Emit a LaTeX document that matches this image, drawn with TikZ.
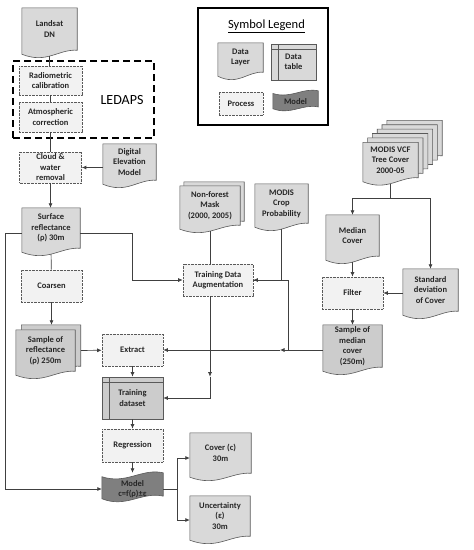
\documentclass[tikz,border=0pt]{standalone}
\usepackage{fontspec}
\setmainfont{Carlito}
\usetikzlibrary{positioning,arrows.meta,calc,backgrounds}
\definecolor{ink}{HTML}{262626}
\definecolor{edge}{HTML}{404040}
\definecolor{rim}{HTML}{595959}
\definecolor{layerfill}{HTML}{D9D9D9}
\definecolor{samplefill}{HTML}{CCCCCC}
\definecolor{procfill}{HTML}{F2F2F2}
\definecolor{modelfill}{HTML}{7F7F7F}

\tikzset{
  dims/.style 2 args={minimum width=#1pt, minimum height=#2pt},
  box/.style={inner sep=1pt, align=center, text=ink, font=\bfseries\fontsize{8.5}{10.5}\selectfont},
  process/.style={box, draw=rim, fill=procfill, line width=0.6pt, dash pattern=on 0.6pt off 0.8pt},
  datatable/.style={box, draw=rim, fill=layerfill, line width=0.6pt,
    path picture={\draw[rim, line width=0.6pt]
      ([xshift=7pt]path picture bounding box.north west) -- ([xshift=7pt]path picture bounding box.south west)
      ([yshift=-5pt]path picture bounding box.north west) -- ([yshift=-5pt]path picture bounding box.north east);}},
  link/.style={draw=edge, line width=0.7pt},
  fromwave/.style={shorten <=6pt},
}

% data layer: sheet with a wavy foot, drawn round a node
\newcommand{\layershape}[3][0,0]{%
  \draw[rim, line width=0.6pt, fill=#3]
    let \p1=($(#2.north west)+(#1)$), \p2=($(#2.south east)+(#1)$) in
    (\p1) -- (\x2,\y1) -- (\p2)
    .. controls ({\x2+0.35*(\x1-\x2)},\y2+1pt) and ({\x2+0.55*(\x1-\x2)},\y2-14pt)
    .. (\x1,\y2-4pt) -- cycle;}

% model: wavy banner
\newcommand{\modelshape}[1]{%
  \draw[rim, line width=0.6pt, fill=modelfill]
    let \p1=(#1.north west), \p2=(#1.south east), \n1={\x2-\x1}, \n2={\y1-\y2} in
    (\x1,{\y1-0.12*\n2}) .. controls ({\x1+0.4*\n1},{\y1-0.37*\n2}) and ({\x1+0.65*\n1},{\y1+0.15*\n2}) .. (\x2,\y1)
    -- (\x2,{\y1-0.72*\n2}) .. controls ({\x1+0.65*\n1},{\y1-0.57*\n2}) and ({\x1+0.4*\n1},{\y1-1.1*\n2}) .. (\x1,{\y1-0.8*\n2}) -- cycle;}

\begin{document}
\begin{tikzpicture}[x=1pt, y=-1pt, >={Latex[length=4.5pt,width=4pt]}]
  \useasboundingbox (0,0) rectangle (474,550);

  % legend
  \node[draw=black, line width=2pt, dims={130}{117}] (legendbox) at (263,66.5) {};
  \node[font=\fontsize{12.5}{14}\selectfont, text=black] (legendtitle) at (266.5,26) {\underline{Symbol Legend}};
  \node[box, dims={45}{29}] (legdata) at (240.5,57.5) {Data\\Layer};
  \node[datatable, dims={45}{36}] (legtable) at (293.5,62) {Data\\table};
  \node[process, dims={44}{23}] (legproc) at (241,103.5) {Process};
  \node[box, dims={45}{22}] (legmodel) at (295.5,102) {Model};

  % LEDAPS
  \node[draw=black, line width=2.2pt, dash pattern=on 7pt off 4pt, dims={141}{77}] (ledaps) at (83.5,99.5) {};
  \node[font=\fontsize{14}{16}\selectfont, text=black] (ledapslabel) at (122,100) {LEDAPS};

  % main column
  \node[box, dims={55}{42}] (landsat) at (49.5,29) {Landsat\\DN};
  \node[process, dims={63}{29}] (radio) at (50.5,80.5) {Radiometric\\calibration};
  \node[process, dims={63}{30}] (atmos) at (50.5,117) {Atmospheric\\correction};
  \node[process, dims={62}{31}] (cloud) at (50.5,167.5) {Cloud \&\\water\\removal};
  \node[box, dims={53}{36}] (dem) at (129.5,162) {Digital\\Elevation\\Model};
  \node[box, dims={58}{40}] (surf) at (51,228) {Surface\\reflectance\\(ρ) 30m};
  \node[process, dims={61}{32}] (coarsen) at (51.5,286) {Coarsen};
  \node[box, dims={59}{41}] (sampref) at (45.5,350.5) {Sample of\\reflectance\\(ρ) 250m};
  \node[process, dims={61}{32}] (extract) at (132.5,350) {Extract};
  \node[datatable, fill=samplefill, dims={61}{42}] (trainds) at (132.5,398) {Training\\dataset};
  \node[process, dims={61}{33}] (regression) at (132.5,445.5) {Regression};
  \node[box, dims={61}{32}] (model) at (132.5,489) {Model\\c=f(ρ)±ε};
  \node[box, dims={61}{40}] (cover) at (220.5,453) {Cover (c)\\30m};
  \node[box, dims={60}{40}] (uncert) at (220,516) {Uncertainty\\(ε)\\30m};

  % middle inputs
  \node[box, dims={60}{39}] (nonforest) at (210,205.5) {Non-forest\\Mask\\(2000, 2005)};
  \node[box, dims={53}{39}] (modiscrop) at (281.5,203.5) {MODIS\\Crop\\Probability};
  \node[process, dims={70}{32}] (tda) at (218,280) {Training Data\\Augmentation};

  % tree cover branch
  \node[box, dims={55}{35}] (vcf) at (390.5,160) {MODIS VCF\\Tree Cover\\2000-05};
  \node[box, dims={53}{41}] (median) at (352.5,235.5) {Median\\Cover};
  \node[box, dims={55}{42}] (sd) at (430.5,290) {Standard\\deviation\\of Cover};
  \node[process, dims={61}{32}] (filter) at (352.5,293) {Filter};
  \node[box, dims={59}{42}] (sampmed) at (352.5,346) {Sample of\\median\\cover\\(250m)};

  \begin{scope}[on background layer]
    \layershape{legdata}{layerfill}
    \modelshape{legmodel}
    \layershape{landsat}{layerfill}
    \layershape{dem}{layerfill}
    \layershape{surf}{layerfill}
    \layershape[5.5,-5]{sampref}{samplefill}
    \layershape{sampref}{samplefill}
    \modelshape{model}
    \layershape{cover}{layerfill}
    \layershape{uncert}{layerfill}
    \layershape[4,-4]{nonforest}{layerfill}
    \layershape{nonforest}{layerfill}
    \layershape{modiscrop}{layerfill}
    \foreach \k in {5,...,1} {\layershape[4.8*\k,-4.4*\k]{vcf}{layerfill}}
    \layershape{vcf}{layerfill}
    \layershape{median}{layerfill}
    \layershape{sd}{layerfill}
    \layershape{sampmed}{samplefill}
  \end{scope}

  \coordinate (medjoin) at (288,350);
  \coordinate (vcffork) at (390.5,198);
  \coordinate (modelfork) at ([xshift=14pt]model.east);

  \draw[link, fromwave] (landsat.south) -- (landsat.south |- radio.north);
  \draw[link] (radio) -- (atmos);
  \draw[link] (atmos) -- (cloud);
  \draw[link,->] (dem.west |- cloud) -- (cloud);
  \draw[link,->] (cloud.south) -- (cloud.south |- surf.north);
  \draw[link, fromwave] (surf.south) -- (coarsen);
  \draw[link,->, shorten >=5pt] (coarsen) -- (coarsen |- sampref.north);
  \draw[link,->, shorten <=6pt] (sampref.east) -- (extract);
  \draw[link,->] ([yshift=-5pt]surf.west) -- ++(-16,0) |- (model);
  \draw[link,->] ([yshift=-5pt]surf.east) -| (extract |- tda) -- (tda);
  \draw[link, fromwave] (nonforest.south) -- (nonforest.south |- tda.north);
  \draw[link,->, fromwave] (modiscrop.south) |- (tda.east);
  \draw[link,->] (sampmed.west |- extract) -- ([xshift=-8pt]medjoin);
  \draw[link,->] ([xshift=-8pt]medjoin) -- (extract);
  \draw[link] (medjoin) |- (tda.east);
  \draw[link,->] (nonforest.south |- tda.south) -- (nonforest.south |- trainds.north);
  \draw[link,->] (nonforest.south |- trainds.north) |- (trainds);
  \draw[link,->] (extract) -- (trainds);
  \draw[link,->] (trainds) -- (regression);
  \draw[link,->] (regression) -- (model);
  \draw[link] (model.east) -- (modelfork);
  \draw[link,->] (modelfork) |- ([yshift=-5pt]cover.west);
  \draw[link,->] (modelfork) |- ([yshift=-4pt]uncert.west);
  \draw[link, fromwave] (vcf.south) -- (vcffork);
  \draw[link,->] (vcffork) -| (median);
  \draw[link,->] (vcffork) -| (sd);
  \draw[link,->, fromwave] (median.south) -- (filter);
  \draw[link,->] (sd.west |- filter) -- (filter);
  \draw[link,->] (filter) -- (sampmed);
\end{tikzpicture}
\end{document}
